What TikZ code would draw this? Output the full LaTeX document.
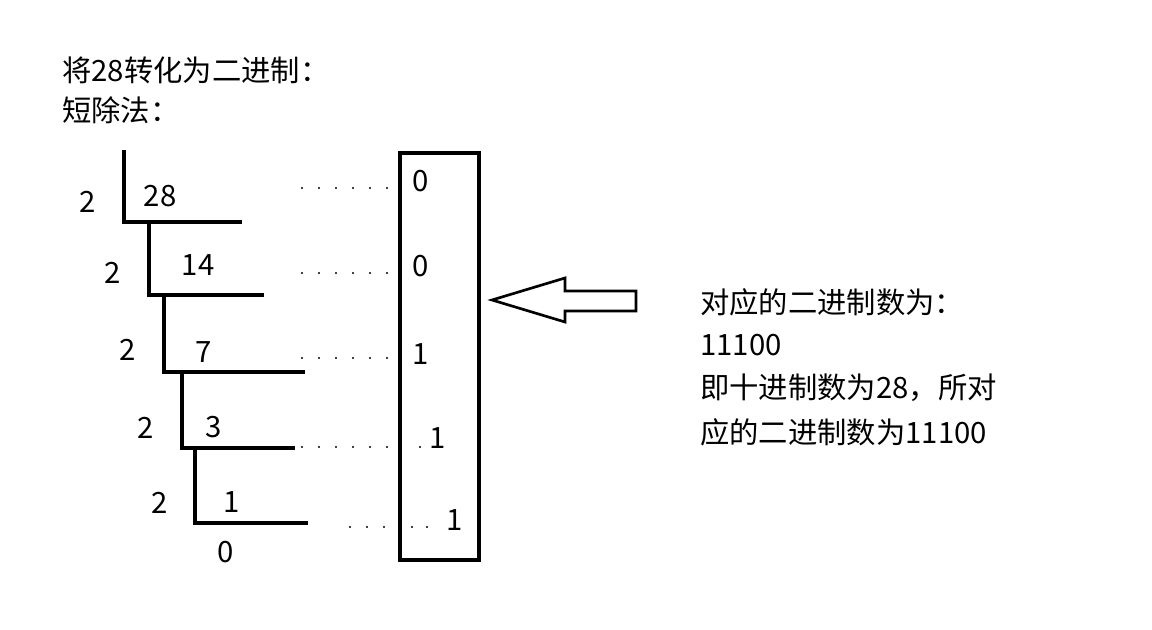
\documentclass[tikz,border=0pt]{standalone}
\usepackage{fontspec}
\setmainfont{Noto Sans CJK SC}
\begin{document}
\begin{tikzpicture}[x=0.75pt,y=-0.75pt,
  ln/.style={line width=2.6pt},
  t/.style={font=\fontsize{22}{26}\selectfont,inner sep=0pt},
  tl/.style={t,anchor=west},
  dt/.style={fill=black,circle,inner sep=0pt,minimum size=1.8pt}]
\useasboundingbox (0,0) rectangle (1152,630);
\node[tl] (t1) at (62,70) {将28转化为二进制：};
\node[tl] (t2) at (62,110) {短除法：};
% divisions
\draw[ln] (124,150) -- (124,222) -- (242,222);
\draw[ln] (149,222) -- (149,295) -- (264,295);
\draw[ln] (164,295) -- (164,372) -- (305,372);
\draw[ln] (182,372) -- (182,448) -- (295,448);
\draw[ln] (195,448) -- (195,523) -- (308,523);
\node[t] (d1) at (88,202) {2}; \node[t] (n1) at (160,196) {28};
\node[t] (d2) at (113,273) {2}; \node[t] (n2) at (198,265) {14};
\node[t] (d3) at (128,350) {2}; \node[t] (n3) at (204,352) {7};
\node[t] (d4) at (146,428) {2}; \node[t] (n4) at (214,427) {3};
\node[t] (d5) at (160,503) {2}; \node[t] (n5) at (232,502) {1};
\node[t] (n6) at (226,552) {0};
% dots
\foreach \y in {188,273,358,447}{\foreach \i in {0,...,5}{\node[dt] at (302+17*\i,\y) {};}}
\foreach \x in {350,367,384,412,427}{\node[dt] at (\x,527) {};}
\node[dt] at (420,447) {};
% box
\draw[ln] (400,153) rectangle (479,560);
\node[t] (r1) at (421,181) {0};
\node[t] (r2) at (421,266) {0};
\node[t] (r3) at (421,354) {1};
\node[t] (r4) at (438,438) {1};
\node[t] (r5) at (455,520) {1};
% arrow
\draw[line width=2pt,line join=miter] (492,300) -- (565,278) -- (565,291) -- (636,291) -- (636,311) -- (565,311) -- (565,322) -- cycle;
\node[tl] (a1) at (700,302) {对应的二进制数为：};
\node[tl] (a2) at (700,345) {11100};
\node[tl] (a3) at (700,388) {即十进制数为28，所对};
\node[tl] (a4) at (700,432) {应的二进制数为11100};
\end{tikzpicture}
\end{document}
